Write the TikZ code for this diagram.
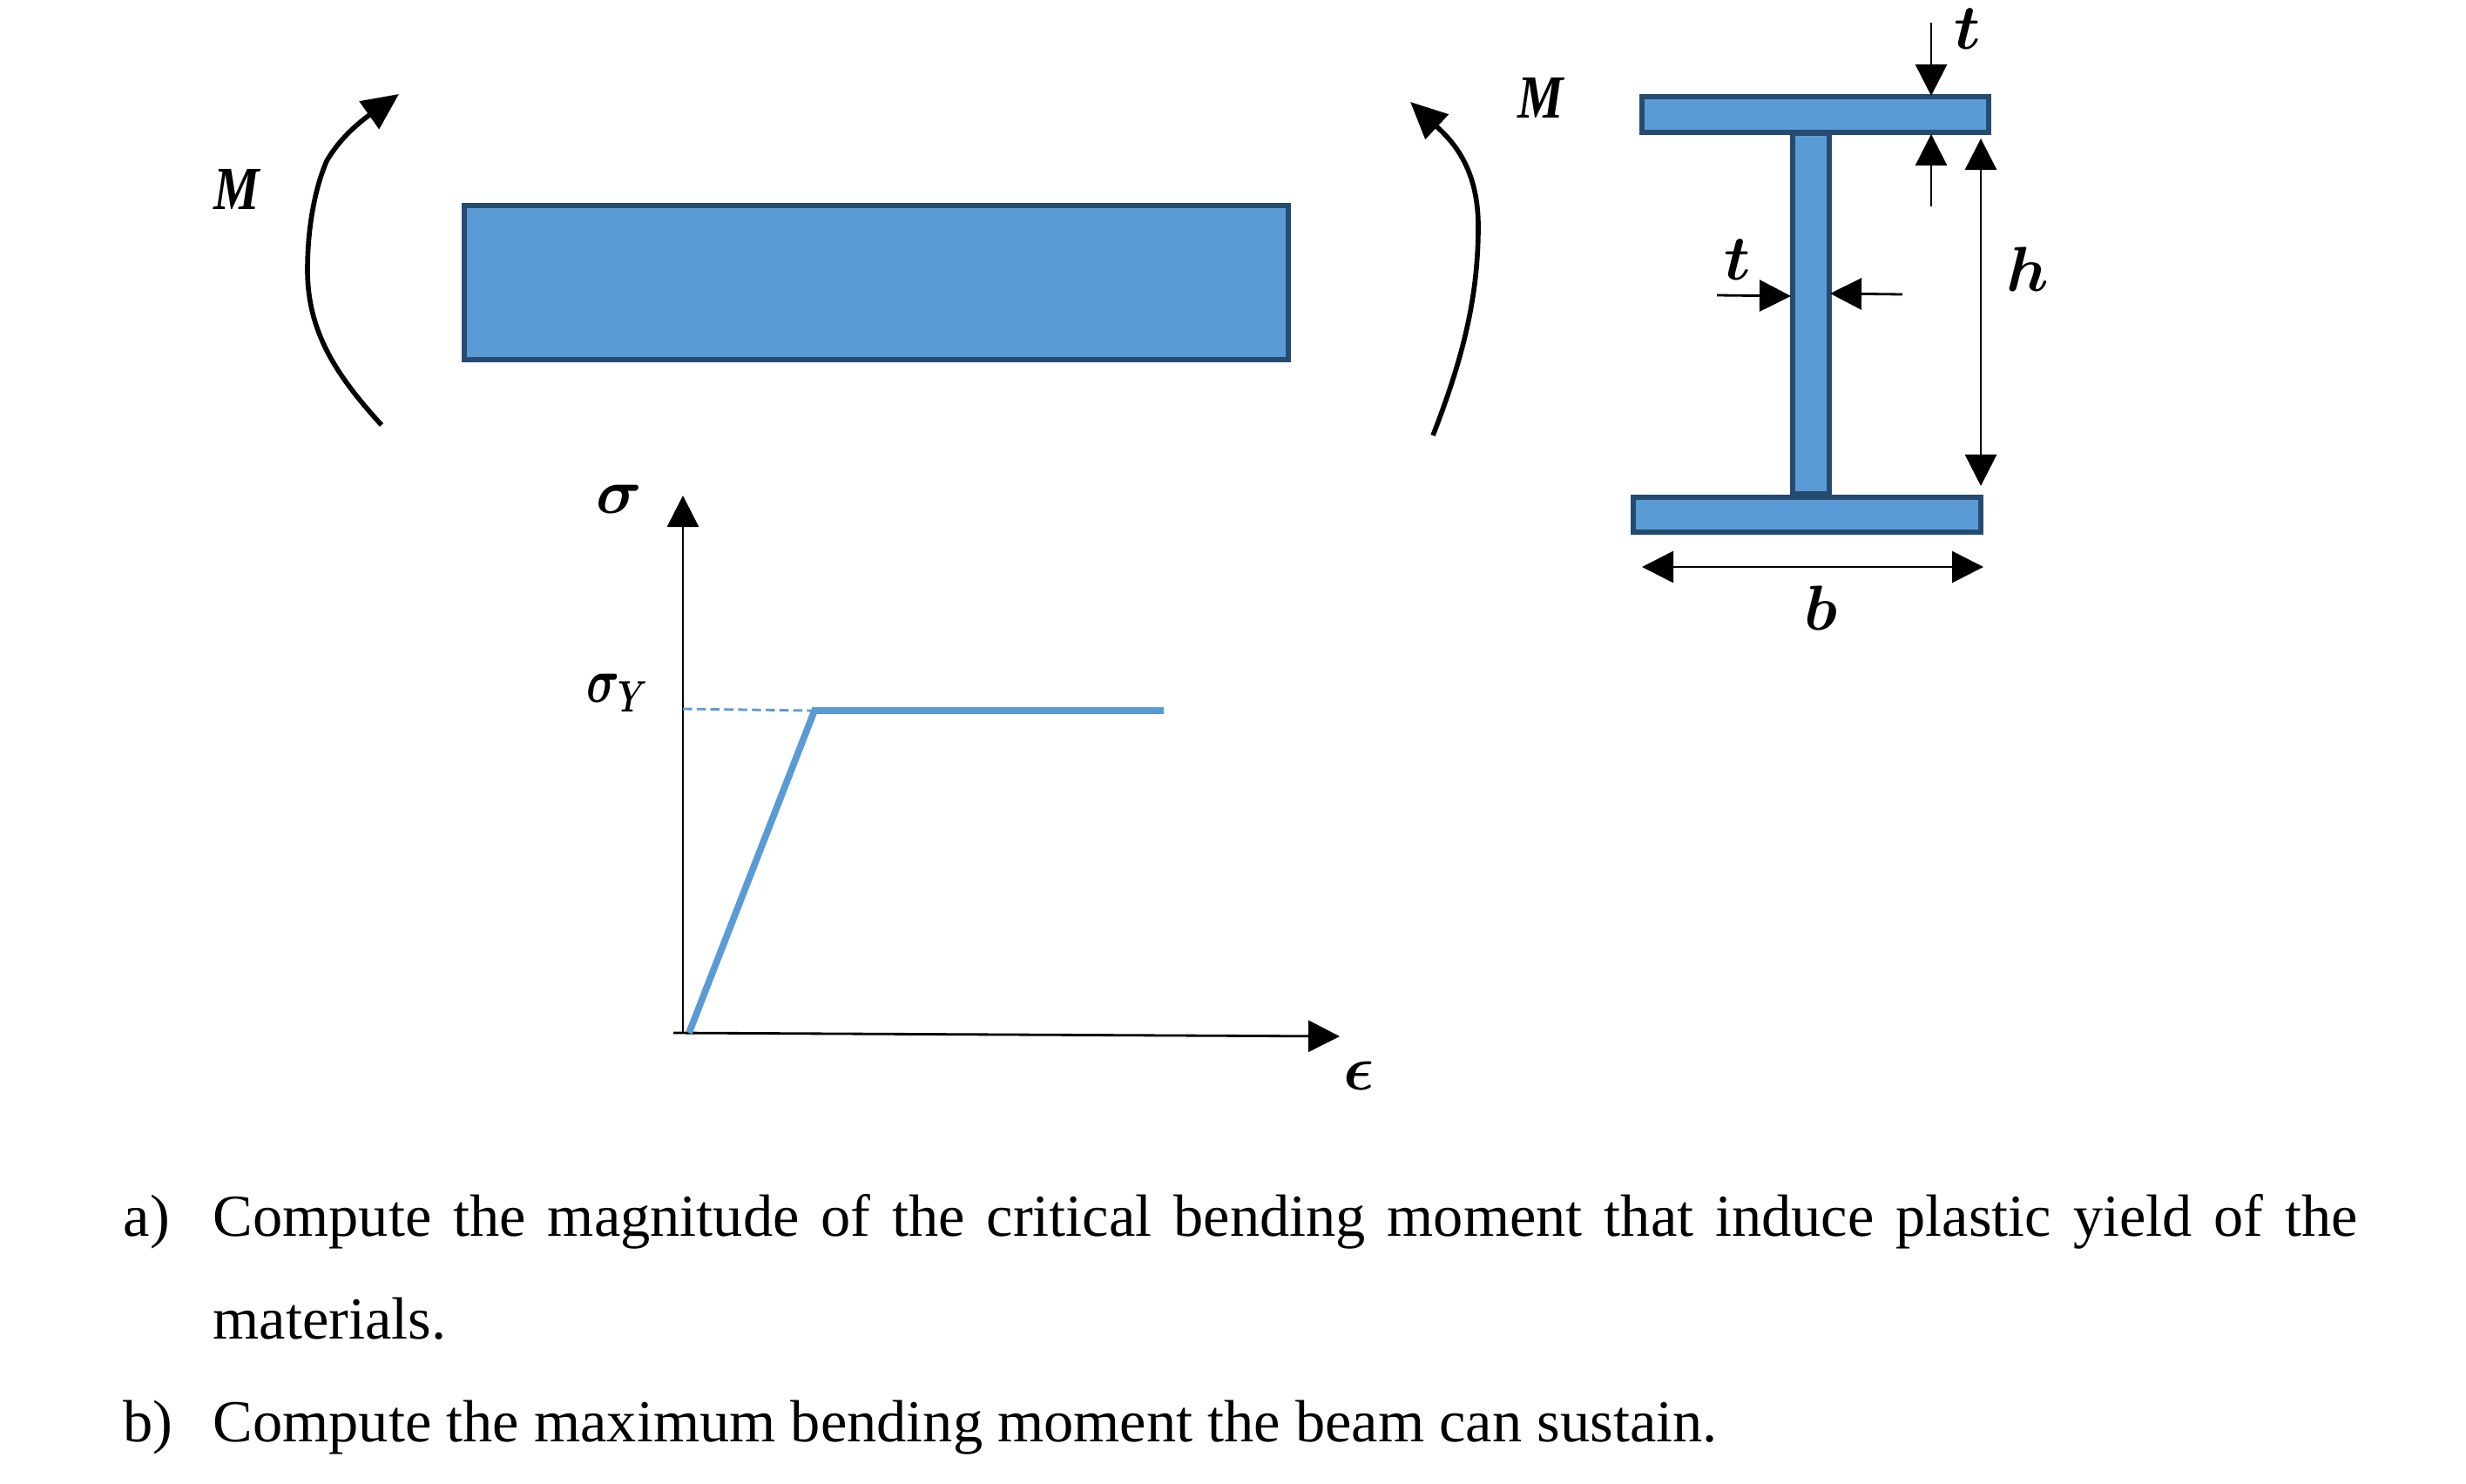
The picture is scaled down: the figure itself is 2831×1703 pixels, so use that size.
\documentclass[tikz,border=0pt]{standalone}
\usepackage{fontspec}
\setmainfont{Liberation Serif}
\usetikzlibrary{arrows.meta}
\definecolor{beamfill}{HTML}{5B9BD5}
\definecolor{beamedge}{HTML}{264B70}
\tikzset{
  beam/.style={draw=beamedge,fill=beamfill,line width=1.7pt},
  dim/.style={black,line width=0.8pt,-{Triangle[length=0.36cm,width=0.36cm]}},
  dimboth/.style={black,line width=0.8pt,{Triangle[length=0.36cm,width=0.36cm]}-{Triangle[length=0.36cm,width=0.36cm]}},
  moment/.style={black,line width=1.6pt,-{Triangle[length=0.42cm,width=0.38cm]}},
  curveline/.style={beamfill,line width=2.2pt},
  lab/.style={inner sep=0pt,font=\fontsize{20}{24}\selectfont\boldmath},
  body/.style={inner sep=0pt,anchor=base west,font=\fontsize{19.45}{24}\selectfont},
}
\begin{document}
\begin{tikzpicture}[x=0.01cm,y=-0.01cm]
\useasboundingbox (0,0) rectangle (2831,1703);
% beam
\draw[beam] (533,236) rectangle (1479,413);
% moments
\coordinate (ml0) at (438,488); \coordinate (ml1) at (353,310); \coordinate (ml2) at (375,185); \coordinate (ml3) at (458,108);
\draw[moment] (ml0) .. controls (385,430) and (353,380) .. (ml1) .. controls (353,260) and (362,215) .. (ml2) .. controls (392,155) and (420,135) .. (ml3);
\coordinate (mr0) at (1645,500); \coordinate (mr1) at (1697,260); \coordinate (mr2) at (1619,117);
\draw[moment] (mr0) .. controls (1680,410) and (1697,340) .. (mr1) .. controls (1697,190) and (1665,160) .. (mr2);
\node[lab] (ML) at (272,217) {\scalebox{0.84}[1]{$\mathbf{\mathit{M}}$}};
\node[lab] (MR) at (1769,112) {\scalebox{0.84}[1]{$\mathbf{\mathit{M}}$}};
% I section
\draw[beam] (2058,153) rectangle (2100,567);
\draw[beam] (1885,111) rectangle (2283,152);
\draw[beam] (1875,571) rectangle (2274,611);
\coordinate (t1a) at (2217,26); \coordinate (t1b) at (2217,110);
\coordinate (t2a) at (2217,237); \coordinate (t2b) at (2217,154);
\coordinate (t3a) at (1971,339); \coordinate (t3b) at (2056,340);
\coordinate (t4a) at (2184,338); \coordinate (t4b) at (2101,337);
\coordinate (ha) at (2274,159); \coordinate (hb) at (2274,558);
\coordinate (ba) at (1885,651); \coordinate (bb) at (2277,651);
\draw[dim] (t1a) -- (t1b);
\draw[dim] (t2a) -- (t2b);
\draw[dim] (t3a) -- (t3b);
\draw[dim] (t4a) -- (t4b);
\draw[dimboth] (ha) -- (hb);
\draw[dimboth] (ba) -- (bb);
\node[lab] (Lt1) at (2259,33) {$t$};
\node[lab] (Lt2) at (1995,298) {$t$};
\node[lab] (Lh) at (2328,309) {$h$};
\node[lab] (Lb) at (2090,698) {$b$};
% stress-strain chart
\coordinate (O) at (784,1186); \coordinate (Oy) at (784,569);
\coordinate (Ox0) at (773,1186); \coordinate (Ox) at (1538,1190);
\coordinate (s0) at (791,1186); \coordinate (s1) at (935,816); \coordinate (s2) at (1336,816); \coordinate (d0) at (784,814);
\draw[dim] (O) -- (Oy);
\draw[dim] (Ox0) -- (Ox);
\draw[beamfill,line width=0.8pt,dash pattern=on 3pt off 1.5pt] (d0) -- (s1);
\draw[curveline,line join=miter] (s0) -- (s1) -- (s2);
\node[lab] (Ls) at (711,573) {$\sigma$};
\node[lab] (Lsy) at (709,796) {\scalebox{0.72}[1]{$\sigma_Y$}};
\node[lab] (Le) at (1560,1235) {$\epsilon$};
% text
\node[body] (qa) at (141,1419) {a)};
\node[body] (qa1) at (244,1419) {\makebox[2462\dimexpr 0.01cm\relax][s]{Compute the magnitude of the critical bending moment that induce plastic yield of the}};
\node[body] (qa2) at (244,1537) {materials.};
\node[body] (qb) at (141,1655) {b)};
\node[body] (qb1) at (244,1655) {Compute the maximum bending moment the beam can sustain.};
\end{tikzpicture}
\end{document}
